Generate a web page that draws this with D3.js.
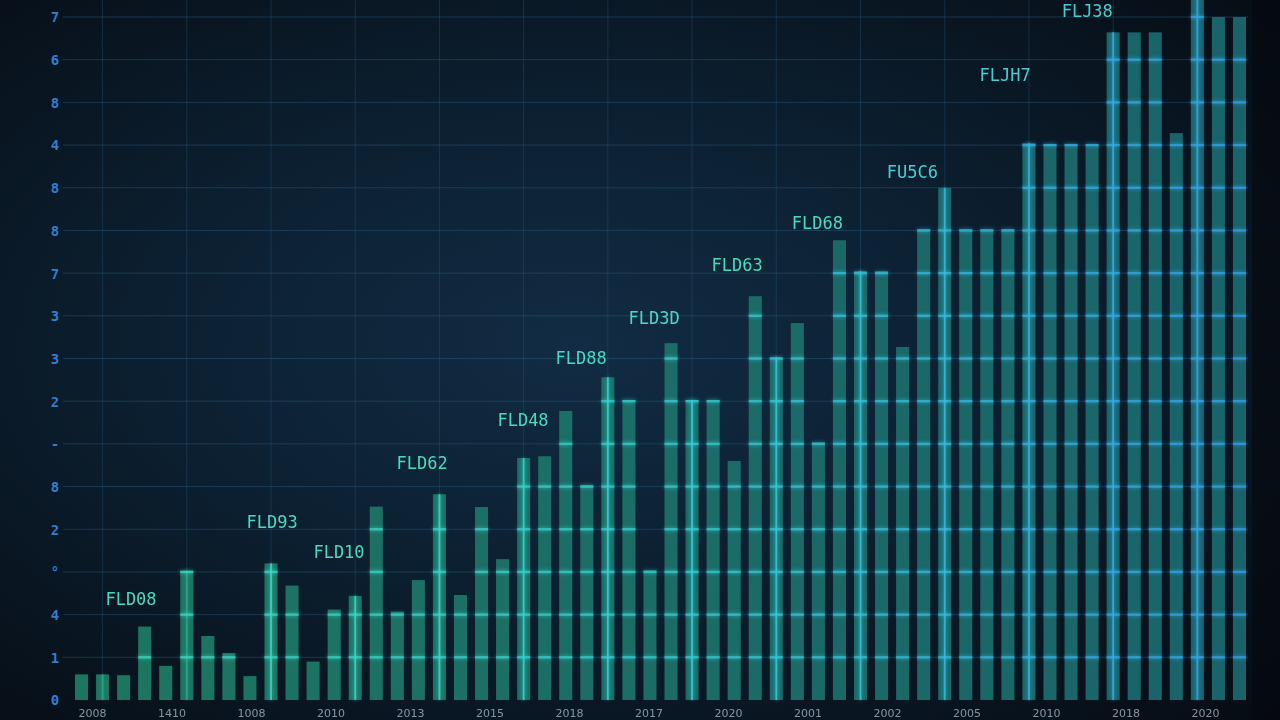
<!DOCTYPE html>
<html><head><meta charset="utf-8">
<script src="https://cdn.jsdelivr.net/npm/d3@7"></script>
<style>html,body{margin:0;padding:0;background:#07111a;overflow:hidden}</style>
</head><body><svg id="c" width="1280" height="720"></svg>
<script>
// ---- data ----
const categories = d3.range(1, 57).map(i => "B" + String(i).padStart(2, "0"));
const values = [0.6,0.6,0.58,1.72,0.8,3.03,1.5,1.1,0.56,3.2,2.68,0.9,2.12,2.44,4.53,2.07,2.81,4.82,2.46,4.52,3.3,5.67,5.71,6.77,5.04,7.56,7.03,3.04,8.36,7.03,7.03,5.6,9.46,8.03,8.83,6.04,10.77,10.05,10.05,8.27,11.03,12.0,11.03,11.03,11.03,13.04,13.02,13.02,13.02,15.64,15.64,15.64,13.28,16.5,16.0,16.0];
const yTickValues = d3.range(0, 17);
const yTickLabels = ["0","1","4","°","2","8","-","2","3","3","7","8","8","4","8","6","7"];
const xTickLabels = ["2008","1410","1008","2010","2013","2015","2018","2017","2020","2001","2002","2005","2010","2018","2020"];
const labelTexts = ["FLD08","FLD93","FLD10","FLD62","FLD48","FLD88","FLD3D","FLD63","FLD68","FU5C6","FLJH7","FLJ38"];
const labelIndex = [2.35,9.05,12.23,16.18,20.97,23.73,27.2,31.14,34.95,39.46,43.87,47.77];
const labelValue = [2.22,4.03,3.33,5.41,6.42,7.87,8.81,10.05,11.03,12.22,14.5,16.0];
const gridEvery = 4, gridStart = 1;

// ---- setup ----
const W = 1280, H = 720;
const svg = d3.select("#c");
const defs = svg.append("defs");
const rg = defs.append("radialGradient").attr("id", "bg").attr("cx", "45%").attr("cy", "48%").attr("r", "75%");
rg.append("stop").attr("offset", "0%").attr("stop-color", "#112c44");
rg.append("stop").attr("offset", "45%").attr("stop-color", "#0c1f30");
rg.append("stop").attr("offset", "100%").attr("stop-color", "#060c13");
const glow = defs.append("filter").attr("id", "glow").attr("x", "-50%").attr("y", "-50%").attr("width", "200%").attr("height", "200%");
glow.append("feGaussianBlur").attr("stdDeviation", 2).attr("result", "b");
const fm = glow.append("feMerge");
fm.append("feMergeNode").attr("in", "b");
fm.append("feMergeNode").attr("in", "SourceGraphic");
const soft = defs.append("filter").attr("id", "soft").attr("x", "-20%").attr("y", "-20%").attr("width", "140%").attr("height", "140%");
soft.append("feGaussianBlur").attr("stdDeviation", 0.6);
const axG = defs.append("linearGradient").attr("id", "axg");
axG.append("stop").attr("offset", "0%").attr("stop-color", "#48e4e0");
axG.append("stop").attr("offset", "100%").attr("stop-color", "#3aa8f0");

svg.append("rect").attr("width", W).attr("height", H).attr("fill", "url(#bg)");
svg.append("rect").attr("x", 1252).attr("width", 28).attr("height", H).attr("fill", "#05090e").attr("opacity", 0.6);

const x = d3.scaleBand().domain(categories).range([71, 1250]).paddingInner(0.38).paddingOuter(0.19);
const y = d3.scaleLinear().domain([0, 16]).range([700, 17]);
const bw = x.bandwidth();
const cx = c => x(c) + bw / 2;
const xi = d3.scaleLinear().domain([0, categories.length - 1]).range([cx(categories[0]), cx(categories[categories.length - 1])]);
const barColor = d3.scaleLinear().domain([70, 1250]).range(["#1e7b64", "#1a676f"]);
const brightColor = d3.scaleLinear().domain([70, 700, 1250]).range(["#3fe0c2", "#38d0d8", "#34a2ee"]);

// ---- horizontal grid ----
svg.append("g").selectAll("line").data(yTickValues.slice(1)).join("line")
  .attr("x1", 63).attr("x2", 1248)
  .attr("y1", d => y(d)).attr("y2", d => y(d))
  .attr("stroke", "#2b5f86").attr("stroke-opacity", 0.45).attr("stroke-width", 1);

// ---- vertical grid ----
const vIdx = categories.filter((c, i) => i % gridEvery === gridStart);
svg.append("g").selectAll("line").data(vIdx).join("line")
  .attr("x1", d => cx(d)).attr("x2", d => cx(d))
  .attr("y1", 0).attr("y2", 700)
  .attr("stroke", "#2b5f86").attr("stroke-opacity", 0.35);

// ---- bars ----
const data = categories.map((c, i) => ({ c, v: values[i], i }));
svg.append("g").selectAll("rect").data(data).join("rect")
  .attr("x", d => x(d.c)).attr("width", bw)
  .attr("y", d => y(d.v)).attr("height", d => y(0) - y(d.v))
  .attr("fill", d => barColor(cx(d.c))).attr("opacity", 0.95);

// bright segments where grid crosses bars
const segs = [];
data.forEach(d => yTickValues.slice(1).forEach(g => { if (g < d.v) segs.push({ c: d.c, g }); }));
svg.append("g").attr("filter", "url(#glow)").selectAll("rect").data(segs).join("rect")
  .attr("x", d => x(d.c)).attr("width", bw)
  .attr("y", d => y(d.g) - 1.2).attr("height", 2.4)
  .attr("fill", d => brightColor(cx(d.c))).attr("opacity", 0.7);

// bright vertical lines through grid-aligned bars
svg.append("g").attr("filter", "url(#glow)").selectAll("line").data(data.filter(d => d.i % gridEvery === gridStart)).join("line")
  .attr("x1", d => cx(d.c)).attr("x2", d => cx(d.c))
  .attr("y1", d => y(d.v)).attr("y2", 700)
  .attr("stroke", d => brightColor(cx(d.c))).attr("stroke-width", 1.8).attr("opacity", d => d.i > 8 ? 0.85 : 0.35);

// ---- axis line ----
svg.append("line").attr("x1", 72).attr("x2", 1248).attr("y1", y(0)).attr("y2", y(0))
  .attr("stroke", "url(#axg)").attr("stroke-width", 3).attr("filter", "url(#glow)");

// ---- y axis labels ----
const yAxis = d3.axisLeft(y).tickValues(yTickValues).tickSize(0).tickFormat((d, i) => yTickLabels[i]);
const yg = svg.append("g").attr("transform", "translate(62,0)").call(yAxis);
yg.select(".domain").remove();
yg.selectAll("text").attr("fill", "#2e7fd0").attr("font-family", "DejaVu Sans Mono, monospace")
  .attr("font-weight", "bold").attr("font-size", 14).attr("text-anchor", "middle").attr("x", -7).attr("dy", "0.35em");

// ---- x axis labels ----
const xp = d3.scalePoint().domain(xTickLabels.map((d, i) => i)).range([92, 1205]);
const xAxis = d3.axisBottom(xp).tickSize(0).tickFormat(i => xTickLabels[i]);
const xg = svg.append("g").attr("transform", "translate(0,707)").call(xAxis);
xg.select(".domain").remove();
xg.selectAll("text").attr("fill", "#a9c0cf").attr("font-family", "DejaVu Sans, sans-serif")
  .attr("font-size", 11).attr("y", 2).attr("dy", "0.71em").attr("opacity", 0.75);

// ---- floating labels ----
svg.append("g").attr("filter", "url(#soft)").selectAll("text").data(labelTexts).join("text")
  .attr("x", (d, i) => xi(labelIndex[i])).attr("y", (d, i) => y(labelValue[i]))
  .attr("text-anchor", "middle").attr("font-family", "DejaVu Sans Mono, monospace").attr("font-size", 17)
  .attr("fill", (d, i) => i < 9 ? "#4cd9bf" : "#45cfd0")
  .text(d => d);
</script></body></html>
